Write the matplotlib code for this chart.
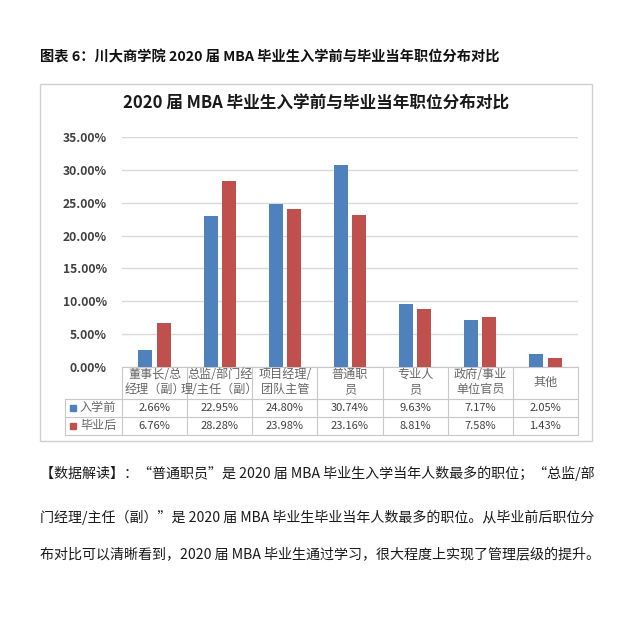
import matplotlib
matplotlib.use('Agg')
import matplotlib.pyplot as plt
import numpy as np

plt.rcParams['font.family'] = ['Noto Sans CJK SC', 'DejaVu Sans']

# data
categories = ['董事长/总\n经理（副）', '总监/部门经\n理/主任（副）', '项目经理/\n团队主管',
              '普通职\n员', '专业人\n员', '政府/事业\n单位官员', '其他']
series_names = ['入学前', '毕业后']
before = [2.66, 22.95, 24.80, 30.74, 9.63, 7.17, 2.05]
after = [6.76, 28.28, 23.98, 23.16, 8.81, 7.58, 1.43]
yticks = [0, 5, 10, 15, 20, 25, 30, 35]

heading = '图表 6：川大商学院 2020 届 MBA 毕业生入学前与毕业当年职位分布对比'
title = '2020 届 MBA 毕业生入学前与毕业当年职位分布对比'
para = ['【数据解读】：“普通职员”是 2020 届 MBA 毕业生入学当年人数最多的职位；“总监/部',
        '门经理/主任（副）”是 2020 届 MBA 毕业生毕业当年人数最多的职位。从毕业前后职位分',
        '布对比可以清晰看到，2020 届 MBA 毕业生通过学习，很大程度上实现了管理层级的提升。']

BLUE = '#4f81bd'
RED = '#c0504d'
GRID = '#d9d9d9'
W = 633

fig = plt.figure(figsize=(6.33, 6.33), dpi=100)

# overlay in pixel coords for frame, table and text
ov = fig.add_axes([0, 0, 1, 1])
ov.set_xlim(0, W)
ov.set_ylim(W, 0)
ov.axis('off')

# plot area: x 122..578, y 137 (35%) .. 367 (0%)
x0, x1, ytop, ybot = 122, 578, 137, 367
ax = fig.add_axes([x0 / W, 1 - ybot / W, (x1 - x0) / W, (ybot - ytop) / W])
n = len(categories)
x = np.arange(n)
bw = 0.215
ax.bar(x - 0.14, before, bw, color=BLUE, zorder=3)
ax.bar(x + 0.14, after, bw, color=RED, zorder=3)
ax.set_xlim(-0.5, n - 0.5)
ax.set_ylim(0, 35)
ax.set_yticks(yticks)
ax.set_yticklabels(['%.2f%%' % v for v in yticks], fontsize=8.7,
                   fontweight='bold', color='#404040')
ax.tick_params(axis='y', length=0, pad=11)
ax.set_xticks([])
ax.grid(axis='y', color=GRID, lw=1, zorder=0)
for s in ax.spines.values():
    s.set_visible(False)
ax.patch.set_alpha(0)

# chart frame
ov.add_patch(plt.Rectangle((40, 84), 552, 357, fill=False, ec='#d0d0d0', lw=1))

renderer = fig.canvas.get_renderer()


def fit_text(xp, yp, s, width, size, **kw):
    # shrink or grow the font so the line spans the given pixel width
    t = ov.text(xp, yp, s, fontsize=size, va='center', **kw)
    w = t.get_window_extent(renderer).width
    t.set_fontsize(size * width / w)
    return t


# headings
fit_text(40, 57, heading, 460, 10.5, fontweight='bold', color='#111111', ha='left')
ov.text(316, 104, title, fontsize=12, fontweight='bold', color='#1a1a1a',
        ha='center', va='center')

# data table under the axis
cw = (x1 - x0) / n
LINE = '#c8c8c8'
ov.plot([x0, x1], [367, 367], color=LINE, lw=0.8)
for yy in [399, 417, 435]:
    ov.plot([65, x1], [yy, yy], color=LINE, lw=0.8)
ov.plot([65, 65], [399, 435], color=LINE, lw=0.8)
for i in range(n + 1):
    ov.plot([x0 + i * cw] * 2, [367, 435], color=LINE, lw=0.8)

for i, cat in enumerate(categories):
    cx = x0 + (i + 0.5) * cw
    ov.text(cx, 382, cat, fontsize=8.7, color='#666666', ha='center',
            va='center', linespacing=1.25)
    ov.text(cx, 408, '%.2f%%' % before[i], fontsize=8, color='#404040',
            ha='center', va='center')
    ov.text(cx, 426, '%.2f%%' % after[i], fontsize=8, color='#404040',
            ha='center', va='center')

for yy, name, col in [(408, series_names[0], BLUE), (426, series_names[1], RED)]:
    ov.add_patch(plt.Rectangle((70, yy - 3), 6, 6, color=col))
    ov.text(80, yy, name, fontsize=8.7, color='#666666', ha='left', va='center')

# commentary paragraph
for yy, line, wd in zip([473, 517, 555], para, [555, 553, 560]):
    fit_text(40, yy, line, wd, 10.2, color='#1a1a1a', ha='left')

fig.savefig('out.png', dpi=100, facecolor='white')
plt.close(fig)
